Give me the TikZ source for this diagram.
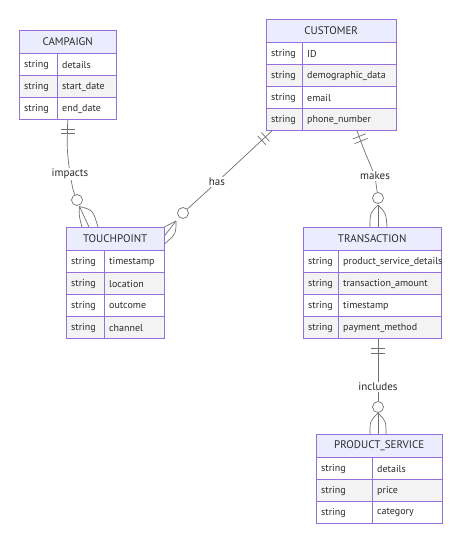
\documentclass[tikz,border=0pt]{standalone}
\usepackage{fontspec}
\setmainfont{PT Sans}
\usetikzlibrary{calc}
\definecolor{erborder}{HTML}{9370DB}
\definecolor{erhead}{HTML}{ECECFF}
\definecolor{errow}{HTML}{F3F3F3}
\definecolor{ertext}{HTML}{2B2B2B}
\definecolor{erline}{HTML}{707070}

\begin{document}
\begin{tikzpicture}[
            x=1pt, y=-1pt, text=ertext,
            font=\fontsize{10}{12}\selectfont,
            head/.style={draw=erborder, fill=erhead, minimum height=23pt, inner sep=0pt,
                anchor=north west, font=\fontsize{11}{13}\selectfont},
            attrow/.style={draw=erborder, minimum height=22pt, inner sep=0pt, anchor=north west},
            attr/.style={anchor=west, inner sep=0pt},
            rel/.style={draw=erline, line width=0.7pt},
            zero/.style={circle, draw=erline, fill=white, line width=0.7pt, minimum size=11pt, inner sep=0pt},
            lbl/.style={fill=white, inner sep=1pt, font=\fontsize{11}{13}\selectfont},
        ]
            \path[use as bounding box] (0,0) rectangle (474,544);

            % --- Entidades: cabecera y filas de atributos ---
            \foreach \ename/\etitle/\ex/\ey/\ew/\ecol/\erows in {
                campaign/CAMPAIGN/19/30/97/38/{details,start\_date,end\_date},
                customer/CUSTOMER/266/19/130/36/{ID,demographic\_data,email,phone\_number},
                touchpoint/TOUCHPOINT/66/227/98/38/{timestamp,location,outcome,channel},
                transaction/TRANSACTION/303/227/138/35/{product\_service\_details,transaction\_amount,timestamp,payment\_method},
                product/PRODUCT\_SERVICE/316/434/126/56/{details,price,category}} {
                \node[head, minimum width=\ew pt] (\ename) at (\ex,\ey) {\etitle};
                \foreach \f [count=\i] in \erows {
                    \ifodd\i\relax\def\rowfill{white}\else\def\rowfill{errow}\fi
                    \node[attrow, fill=\rowfill, minimum width=\ew pt] (\ename\i)
                        at ($(\ename.south west)+(0,{22*(\i-1)})$) {};
                    \draw[erborder] ($(\ename\i.north west)+(\ecol,0)$) -- ($(\ename\i.south west)+(\ecol,0)$);
                    \node[attr] (\ename\i-type) at ($(\ename\i.west)+(5,0)$) {string};
                    \node[attr] (\ename\i-name) at ($(\ename\i.west)+(\ecol+5,0)$) {\f};
                }
            }

            % --- Etiquetas y circulos de las relaciones ---
            \node[lbl] (impacts) at (70,174) {impacts};
            \node[lbl] (has) at (217,182) {has};
            \node[lbl] (makes) at (375,176) {makes};
            \node[lbl] (includes) at (378,387) {includes};
            \node[zero] (impO) at (77,200) {};
            \node[zero] (hasO) at (183,213) {};
            \node[zero] (makO) at (378,198) {};
            \node[zero] (incO) at (378,407) {};

            % --- CAMPAIGN impacts TOUCHPOINT ---
            \coordinate (impS) at (campaign3.south);
            \coordinate (impA) at (79.5,206.5);
            \draw[rel] (impS) .. controls (67,150) .. (impacts);
            \draw[rel] (impacts) .. controls (73,190) .. (impO);
            \draw[rel] ($(impS)+(-7,10)$) -- +(14,0);
            \draw[rel] ($(impS)+(-7,14)$) -- +(14,0);
            \draw[rel] (impA) .. controls (79,216) .. ($(touchpoint.north west)+(16,0)$);
            \draw[rel] (impA) -- ($(touchpoint.north west)+(23,0)$);
            \draw[rel] (impA) .. controls (93,210) .. ($(touchpoint.north west)+(32,0)$);

            % --- CUSTOMER has TOUCHPOINT ---
            \coordinate (hasS) at ($(customer4.south west)+(6,0)$);
            \coordinate (hasA) at (176,221);
            \draw[rel] (hasS) -- (has);
            \draw[rel] (has) -- (hasO);
            \draw[rel] ($(hasS)!9pt!(hasO)!6pt!90:(hasO)$) -- ($(hasS)!9pt!(hasO)!6pt!-90:(hasO)$);
            \draw[rel] ($(hasS)!14pt!(hasO)!6pt!90:(hasO)$) -- ($(hasS)!14pt!(hasO)!6pt!-90:(hasO)$);
            \draw[rel] (hasA) -- (touchpoint.north east);
            \draw[rel] (hasA) -- ($(touchpoint.north east)+(0,9)$);
            \draw[rel] (hasA) .. controls (176,234) .. ($(touchpoint.north east)+(0,17)$);

            % --- CUSTOMER makes TRANSACTION ---
            \coordinate (makS) at ($(customer4.south west)+(91,0)$);
            \coordinate (makA) at (378,205);
            \draw[rel] (makS) .. controls (364,150) .. (makes);
            \draw[rel] (makes) -- (makO);
            \draw[rel] ($(makS)!6pt!(makes)!7pt!90:(makes)$) -- ($(makS)!6pt!(makes)!7pt!-90:(makes)$);
            \draw[rel] ($(makS)!11pt!(makes)!7pt!90:(makes)$) -- ($(makS)!11pt!(makes)!7pt!-90:(makes)$);
            \draw[rel] (makA) .. controls (370,213) .. ($(transaction.north west)+(67,0)$);
            \draw[rel] (makA) -- ($(transaction.north west)+(75,0)$);
            \draw[rel] (makA) .. controls (386,213) .. ($(transaction.north west)+(84,0)$);

            % --- TRANSACTION includes PRODUCT_SERVICE ---
            \coordinate (incS) at ($(transaction4.south west)+(75,0)$);
            \coordinate (incA) at (378,413);
            \draw[rel] (incS) -- (includes);
            \draw[rel] (includes) -- (incO);
            \draw[rel] ($(incS)+(-7,10)$) -- +(14,0);
            \draw[rel] ($(incS)+(-7,15)$) -- +(14,0);
            \draw[rel] (incA) .. controls (370,421) .. ($(product.north west)+(54,0)$);
            \draw[rel] (incA) -- ($(product.north west)+(62,0)$);
            \draw[rel] (incA) .. controls (386,421) .. ($(product.north west)+(70,0)$);
        \end{tikzpicture}
\end{document}
